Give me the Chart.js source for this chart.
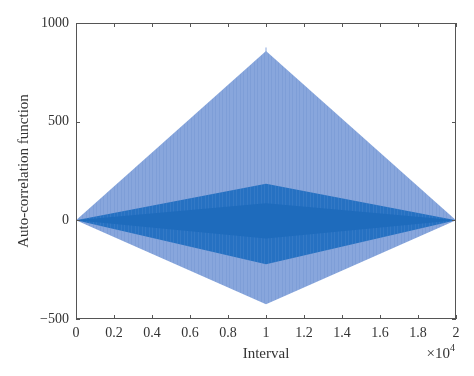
<!DOCTYPE html>
<html>
<head>
<meta charset="utf-8">
<script src="https://cdn.jsdelivr.net/npm/chart.js@4"></script>
<style>
  body { margin: 0; background: #fff; }
  #wrap { width: 474px; height: 376px; }
</style>
</head>
<body>
<div id="wrap"><canvas id="acfChart"></canvas></div>
<script>
// envelope of the auto-correlation signal
const intervals = [0, 10000, 20000];
const outerUpper = [0, 858, 0];
const outerLower = [0, -425, 0];
const innerUpper = [0, 185, 0];
const innerLower = [0, -222, 0];
const coreUpper = [0, 86, 0];
const coreLower = [0, -92, 0];
const spikeX = [10000, 10000];
const spikeY = [850, 876];

const xTicks = [0, 2000, 4000, 6000, 8000, 10000, 12000, 14000, 16000, 18000, 20000];
const yTicks = [-500, 0, 500, 1000];

const pts = (ys, xs = intervals) => xs.map((x, i) => ({ x, y: ys[i] }));

// vertical stripe texture like the dense trace in the original
function stripes(base, line) {
  const c = document.createElement('canvas');
  c.width = 7; c.height = 4;
  const g = c.getContext('2d');
  g.fillStyle = base; g.fillRect(0, 0, 7, 4);
  g.fillStyle = line; g.fillRect(2, 0, 1, 4); g.fillRect(5, 0, 1, 4);
  return g.createPattern(c, 'repeat');
}

const serif = 'Liberation Serif';

const boxTicks = {
  id: 'boxTicks',
  afterDraw(chart) {
    const { ctx, chartArea: { left, right, top, bottom }, scales: { x, y } } = chart;
    ctx.save();
    ctx.strokeStyle = '#555';
    ctx.lineWidth = 1;
    ctx.strokeRect(left + 0.5, top + 0.5, right - left - 1, bottom - top - 1);
    ctx.beginPath();
    xTicks.forEach(v => {
      const px = Math.round(x.getPixelForValue(v)) + 0.5;
      ctx.moveTo(px, bottom); ctx.lineTo(px, bottom - 4);
      ctx.moveTo(px, top); ctx.lineTo(px, top + 4);
    });
    yTicks.forEach(v => {
      const py = Math.round(y.getPixelForValue(v)) + 0.5;
      ctx.moveTo(left, py); ctx.lineTo(left + 4, py);
      ctx.moveTo(right, py); ctx.lineTo(right - 4, py);
    });
    ctx.stroke();
    // exponent label
    ctx.fillStyle = '#333';
    ctx.textBaseline = 'alphabetic';
    ctx.font = '15px "' + serif + '"';
    ctx.textAlign = 'right';
    ctx.fillText('\u00d710', right - 6, bottom + 39);
    ctx.font = '10px "' + serif + '"';
    ctx.textAlign = 'left';
    ctx.fillText('4', right - 6, bottom + 32);
    ctx.restore();
  }
};

new Chart(document.getElementById('acfChart'), {
  type: 'scatter',
  data: {
    datasets: [
      { data: pts(coreUpper), fill: '+1', backgroundColor: '#1e6bbc', borderWidth: 0, pointRadius: 0, showLine: true },
      { data: pts(coreLower), fill: false, borderWidth: 0, pointRadius: 0, showLine: true },
      { data: pts(innerUpper), fill: '+1', backgroundColor: stripes('#2671c2', '#3379c6'), borderWidth: 0, pointRadius: 0, showLine: true },
      { data: pts(innerLower), fill: false, borderWidth: 0, pointRadius: 0, showLine: true },
      { data: pts(outerUpper), fill: '+1', backgroundColor: stripes('#88a6dc', '#7e9ed7'), borderWidth: 0, pointRadius: 0, showLine: true },
      { data: pts(outerLower), fill: false, borderWidth: 0, pointRadius: 0, showLine: true },
      { data: pts(spikeY, spikeX), borderColor: '#88a6dc', borderWidth: 1, pointRadius: 0, showLine: true, fill: false }
    ]
  },
  options: {
    responsive: true,
    maintainAspectRatio: false,
    animation: false,
    layout: { padding: { top: 23, right: 18, left: 0, bottom: 0 } },
    plugins: {
      legend: { display: false },
      tooltip: { enabled: false }
    },
    scales: {
      x: {
        type: 'linear',
        min: 0,
        max: 20000,
        afterBuildTicks: (s) => { s.ticks = xTicks.map(v => ({ value: v })); },
        afterFit: (s) => { s.height = 57; },
        grid: { display: false, drawTicks: false },
        border: { display: false },
        ticks: {
          padding: 6,
          color: '#333',
          font: { family: serif, size: 14 },
          maxRotation: 0,
          callback: (v) => String(+(v / 10000).toFixed(1))
        },
        title: {
          display: true,
          text: 'Interval',
          color: '#333',
          font: { family: serif, size: 15 },
          padding: { top: 0, bottom: 13 }
        }
      },
      y: {
        min: -500,
        max: 1000,
        afterBuildTicks: (s) => { s.ticks = yTicks.map(v => ({ value: v })); },
        afterFit: (s) => { s.width = 76; },
        grid: { display: false, drawTicks: false },
        border: { display: false },
        ticks: {
          padding: 7,
          color: '#333',
          font: { family: serif, size: 14 },
          callback: (v) => v < 0 ? '\u2212' + Math.abs(v) : String(v)
        },
        title: {
          display: true,
          text: 'Auto-correlation function',
          color: '#333',
          font: { family: serif, size: 15 },
          padding: { top: 15, bottom: 0 }
        }
      }
    }
  },
  plugins: [boxTicks]
});
</script>
</body>
</html>
